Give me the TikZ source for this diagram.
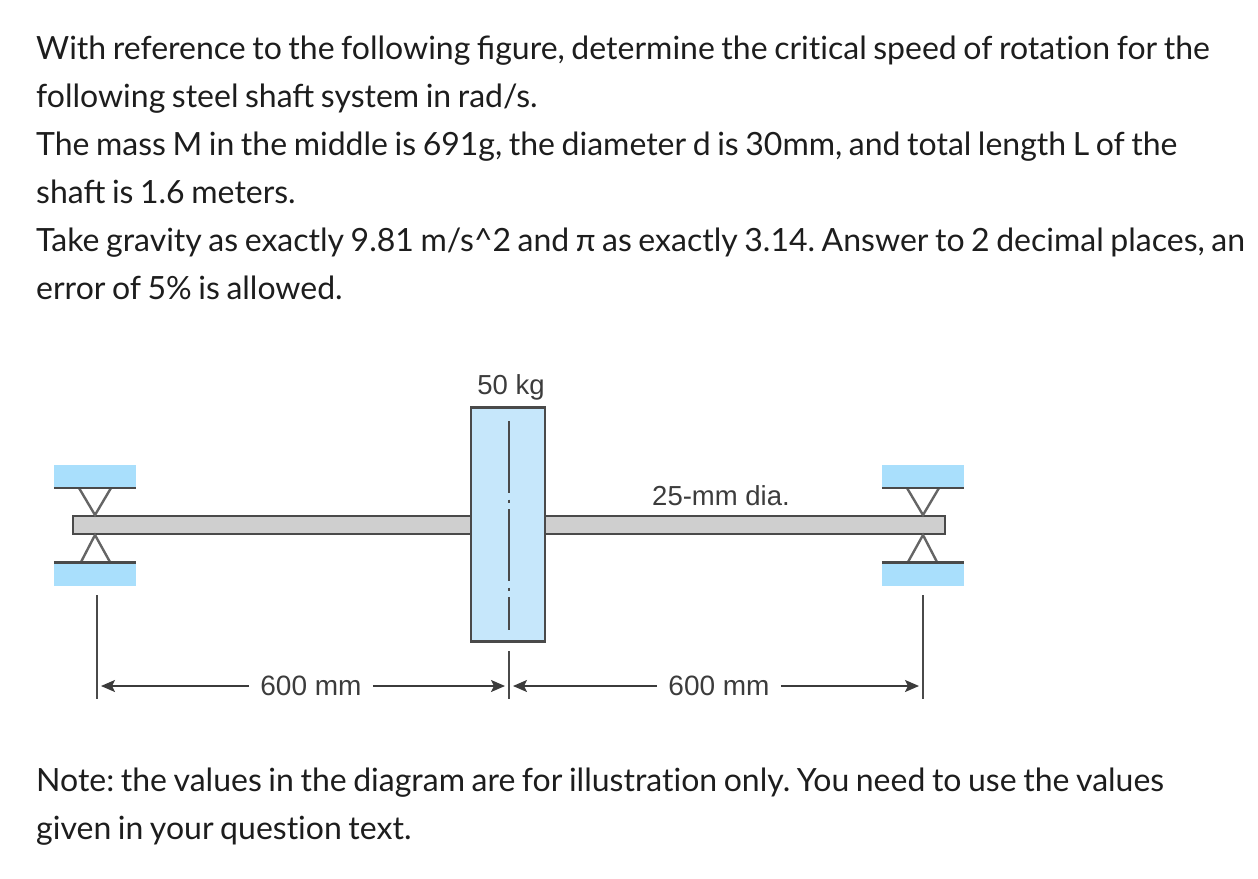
\documentclass[tikz,border=0pt]{standalone}
\usepackage{fontspec}
\setmainfont[WordSpace=0.8]{Lato}
\newfontfamily\labelfont{Liberation Sans}
\usetikzlibrary{arrows.meta,positioning}

\definecolor{padblue}{HTML}{A9DFFC}
\definecolor{massblue}{HTML}{C6E7FB}
\definecolor{shaftgray}{HTML}{CFCFCF}
\definecolor{inkgray}{HTML}{4A4A4A}
\definecolor{labelgray}{HTML}{3C3C3C}
\definecolor{qtext}{HTML}{1D1D1D}

\begin{document}
\begin{tikzpicture}[x=1pt,y=-1pt,>={Stealth[length=14pt,width=12pt,inset=3pt]},
  qline/.style={anchor=base west,inner sep=0pt,text=qtext,font=\fontsize{32}{36}\selectfont\frenchspacing},
  pad/.style={fill=padblue,minimum width=82pt,minimum height=23pt,inner sep=0pt},
  dim label/.style={text=labelgray,inner xsep=11pt,inner ysep=0pt,font=\labelfont\fontsize{28}{32}\selectfont},
  part label/.style={text=labelgray,inner sep=0pt,font=\labelfont\fontsize{27.5}{32}\selectfont},
  pad line/.style={inkgray,line width=2.4pt},
  bearing/.style={inkgray!85,line width=2.4pt},
  dim line/.style={inkgray,line width=2pt},
  dim arrow/.style={->,inkgray!80!black,line width=1.8pt,shorten >=4pt}]
  \useasboundingbox (0,0) rectangle (1258,878);

  % question text
  \node[qline] (q1) at (36,59) {With reference to the following figure, determine the crit\kern0pt ical speed of rotat\kern0pt ion for the};
  \node[qline] (q2) at (36,107) {following steel shaft system in rad/s.};
  \node[qline] (q3) at (36,155) {The mass M in the middle is 691g, the diameter d is 30mm, and total length L of the};
  \node[qline] (q4) at (36,203) {shaft is 1.6 meters.};
  \node[qline] (q5) at (36,251) {Take gravity as exactly 9.81 m/s\textasciicircum 2 and π as exactly 3.14. Answer to 2 decimal places, an};
  \node[qline] (q6) at (36,299) {error of 5\% is allowed.};
  \node[qline] (q7) at (36,791) {Note: the values in the diagram are for illustrat\kern0pt ion only. You need to use the values};
  \node[qline] (q8) at (36,839) {given in your quest\kern0pt ion text.};

  % shaft and mass
  \node[draw=inkgray,line width=2.4pt,fill=shaftgray,minimum width=872pt,minimum height=18pt,inner sep=0pt] (shaft) at (509,525) {};
  \node[draw=inkgray,line width=2.4pt,fill=massblue,minimum width=74pt,minimum height=234pt,inner sep=0pt] (mass) at (508,524.5) {};
  \node[part label] (masslabel) at (511,387) {50 kg};
  \node[part label] (dialabel) at (721,496) {25-mm dia.};

  % centre line of the mass
  \coordinate (ctop) at (509,421);
  \coordinate (cbot) at (509,630);
  \draw[inkgray,line width=2.2pt,dash pattern=on 72pt off 6.5pt on 3pt off 6.5pt] (ctop) -- (cbot);

  % left bearing
  \node[pad] (ltpad) at (95,476.5) {};
  \node[pad] (lbpad) at (95,574) {};
  \coordinate (lta) at (79,488);
  \coordinate (ltb) at (111,488);
  \coordinate (ltc) at (95,515);
  \coordinate (lba) at (81,562);
  \coordinate (lbb) at (110,562);
  \coordinate (lbc) at (95,535);
  \draw[bearing] (lta) -- (ltc) -- (ltb);
  \draw[bearing] (lba) -- (lbc) -- (lbb);
  \draw[pad line] (ltpad.south west) -- (ltpad.south east);
  \draw[pad line] (lbpad.north west) -- (lbpad.north east);

  % right bearing
  \node[pad] (rtpad) at (923,476.5) {};
  \node[pad] (rbpad) at (923,574) {};
  \coordinate (rta) at (907,488);
  \coordinate (rtb) at (939,488);
  \coordinate (rtc) at (923,515);
  \coordinate (rba) at (908,562);
  \coordinate (rbb) at (937,562);
  \coordinate (rbc) at (923,535);
  \draw[bearing] (rta) -- (rtc) -- (rtb);
  \draw[bearing] (rba) -- (rbc) -- (rbb);
  \draw[pad line] (rtpad.south west) -- (rtpad.south east);
  \draw[pad line] (rbpad.north west) -- (rbpad.north east);

  % dimensions
  \coordinate (d1top) at (97,595);
  \coordinate (d1bot) at (97,699);
  \coordinate (d2top) at (509,651);
  \coordinate (d2bot) at (509,699);
  \coordinate (d3top) at (923,595);
  \coordinate (d3bot) at (923,699);
  \coordinate (d1) at (97,686);
  \coordinate (d2) at (509,686);
  \coordinate (d3) at (923,686);
  \draw[dim line] (d1top) -- (d1bot);
  \draw[dim line] (d2top) -- (d2bot);
  \draw[dim line] (d3top) -- (d3bot);

  \node[dim label] (span1) at (311,686) {600 mm};
  \node[dim label] (span2) at (719,686) {600 mm};
  \path[dim arrow]
      (span1) edge (d1)
      (span1) edge (d2)
      (span2) edge (d2)
      (span2) edge (d3);
\end{tikzpicture}
\end{document}
